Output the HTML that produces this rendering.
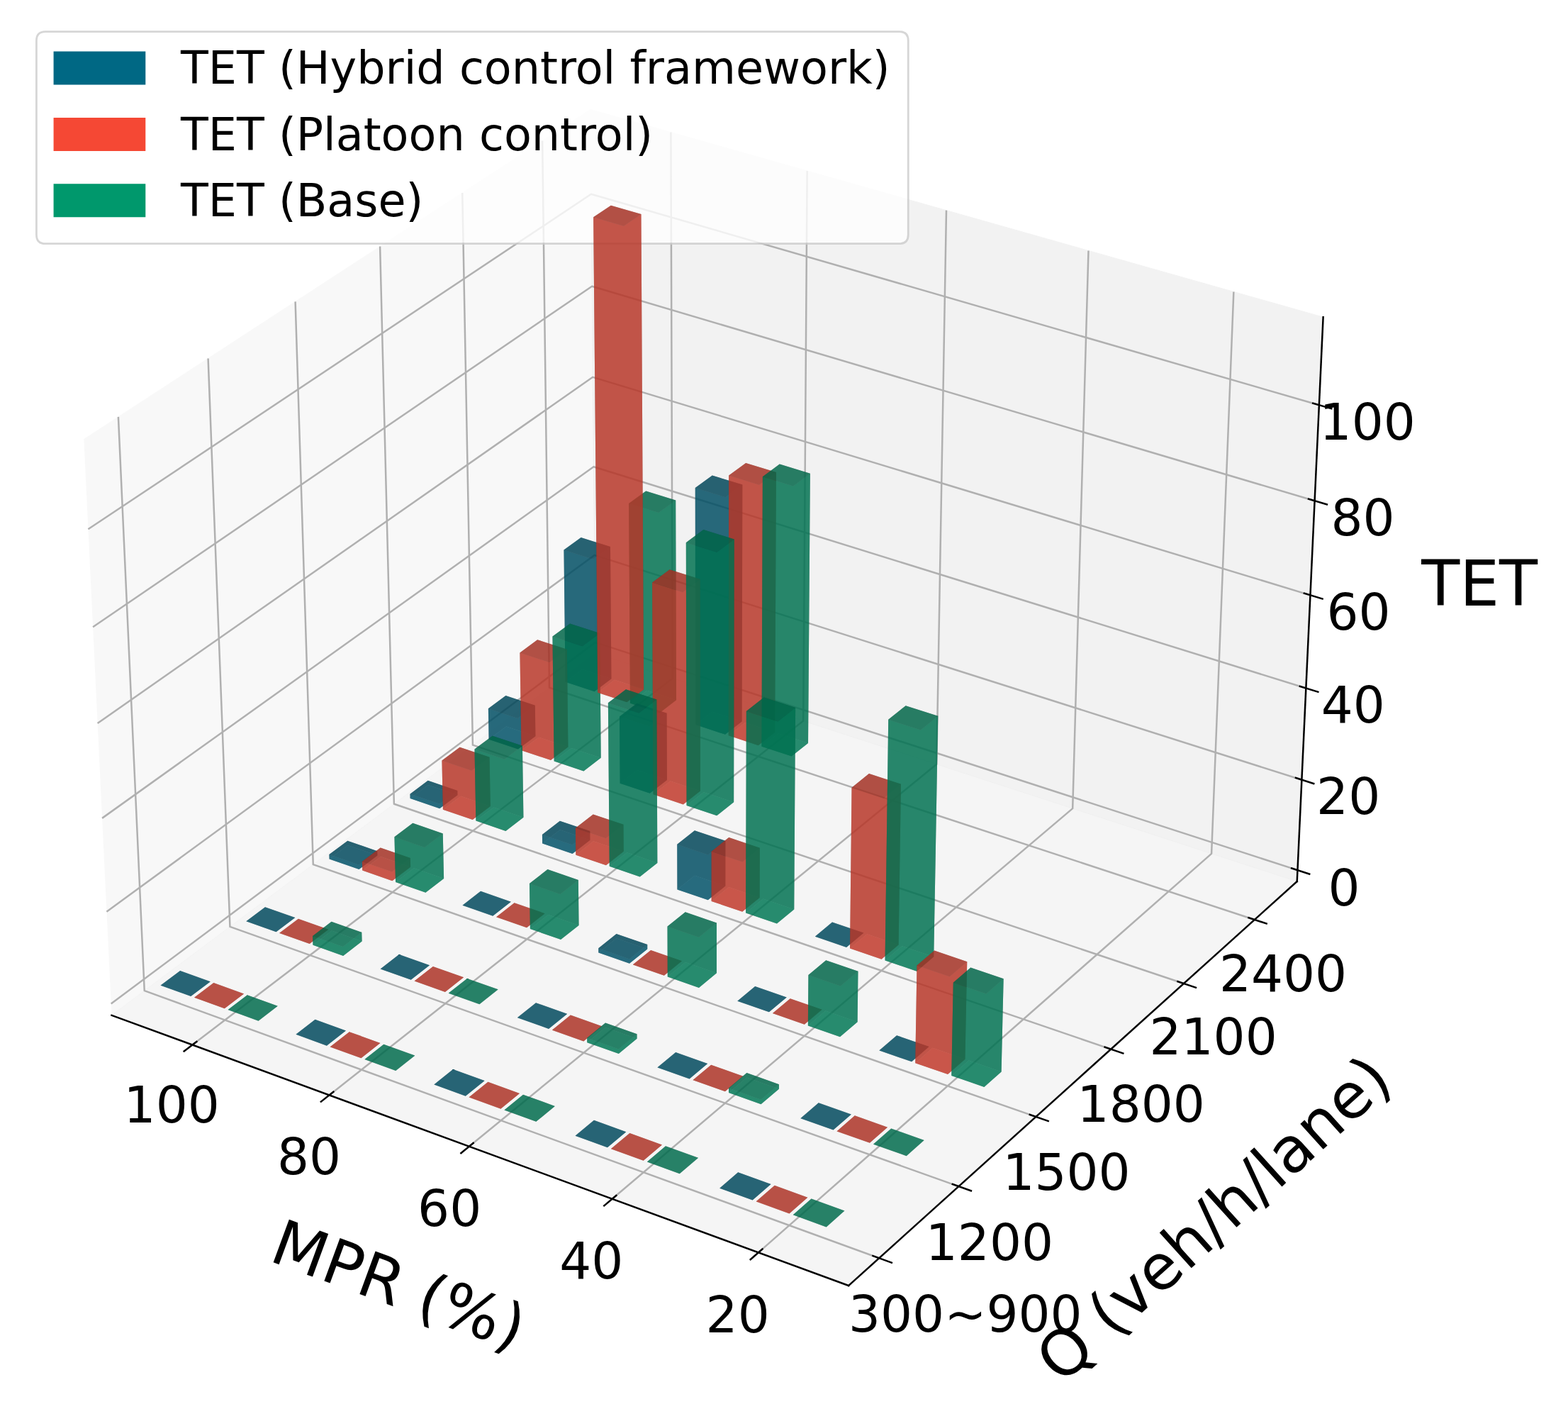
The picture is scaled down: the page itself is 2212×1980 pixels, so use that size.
<!DOCTYPE html>
<html lang="en">
<head>
<meta charset="utf-8">
<title>TET 3D bar chart</title>
<style>
html,body{margin:0;padding:0;background:#fff}
body{width:2212px;height:1980px;overflow:hidden}
svg text{font-family:"DejaVu Sans","Liberation Sans",sans-serif;fill:#000}
</style>
</head>
<body>
<svg width="2212" height="1980" viewBox="0 0 2212 1980" style="display:block">
 <defs>
  <style type="text/css">*{stroke-linejoin: round; stroke-linecap: butt}</style>
 </defs>
 <g id="figure_1">
  <g id="patch_1">
   <path d="M 0 1980 L 2212 1980 L 2212 0 L 0 0 z" style="fill: #ffffff"/>
  </g>
  <g id="patch_2">
   <path d="M 20.09 1928.91 L 1940.09 1928.91 L 1940.09 8.91 L 20.09 8.91 L 20.09 1928.91 z" style="fill: none; opacity: 0"/>
  </g>
  <g id="pane3d_1">
   <g id="patch_3">
    <path d="M 157.48 1431.8 L 839.87 921.27 L 832.83 154.43 L 118.29 619.56" style="fill: #f2f2f2; opacity: 0.5; stroke: #f2f2f2; stroke-linejoin: miter"/>
   </g>
  </g>
  <g id="pane3d_2">
   <g id="patch_4">
    <path d="M 1829.75 1243.04 L 839.87 921.27 L 832.83 154.43 L 1866.63 447.19" style="fill: #e6e6e6; opacity: 0.5; stroke: #e6e6e6; stroke-linejoin: miter"/>
   </g>
  </g>
  <g id="pane3d_3">
   <g id="patch_5">
    <path d="M 1197.16 1813.06 L 157.48 1431.8 L 839.87 921.27 L 1829.75 1243.04" style="fill: #ececec; opacity: 0.5; stroke: #ececec; stroke-linejoin: miter"/>
   </g>
  </g>
  <g id="grid3d_1">
   <g id="Line3DCollection_1">
    <path d="M 271.47 1473.6 L 948.85 956.7 L 946.41 186.6" style="fill: none; stroke: #b0b0b0; stroke-width: 2.5"/>
    <path d="M 464.55 1544.41 L 1133.19 1016.62 L 1138.67 241.04" style="fill: none; stroke: #b0b0b0; stroke-width: 2.5"/>
    <path d="M 661.88 1616.77 L 1321.27 1077.75 L 1334.99 296.64" style="fill: none; stroke: #b0b0b0; stroke-width: 2.5"/>
    <path d="M 863.62 1690.75 L 1513.19 1140.14 L 1535.51 353.42" style="fill: none; stroke: #b0b0b0; stroke-width: 2.5"/>
    <path d="M 1069.91 1766.4 L 1709.09 1203.82 L 1740.36 411.43" style="fill: none; stroke: #b0b0b0; stroke-width: 2.5"/>
   </g>
  </g>
  <g id="grid3d_2">
   <g id="Line3DCollection_2">
    <path d="M 166.9 587.91 L 203.75 1397.18 L 1240.24 1774.24" style="fill: none; stroke: #b0b0b0; stroke-width: 2.5"/>
    <path d="M 293.59 505.45 L 324.43 1306.9 L 1352.47 1673.11" style="fill: none; stroke: #b0b0b0; stroke-width: 2.5"/>
    <path d="M 416.6 425.38 L 441.76 1219.12 L 1461.41 1574.94" style="fill: none; stroke: #b0b0b0; stroke-width: 2.5"/>
    <path d="M 536.09 347.59 L 555.88 1133.74 L 1567.2 1479.62" style="fill: none; stroke: #b0b0b0; stroke-width: 2.5"/>
    <path d="M 652.22 272 L 666.91 1050.67 L 1669.97 1387.01" style="fill: none; stroke: #b0b0b0; stroke-width: 2.5"/>
    <path d="M 765.11 198.51 L 774.99 969.81 L 1769.86 1297.01" style="fill: none; stroke: #b0b0b0; stroke-width: 2.5"/>
   </g>
  </g>
  <g id="grid3d_3">
   <g id="Line3DCollection_3">
    <path d="M 1830.48 1227.15 L 839.73 905.93 L 156.7 1415.61" style="fill: none; stroke: #b0b0b0; stroke-width: 2.5"/>
    <path d="M 1836.39 1099.73 L 838.6 782.93 L 150.43 1285.71" style="fill: none; stroke: #b0b0b0; stroke-width: 2.5"/>
    <path d="M 1842.38 970.47 L 837.45 658.24 L 144.07 1153.87" style="fill: none; stroke: #b0b0b0; stroke-width: 2.5"/>
    <path d="M 1848.46 839.33 L 836.29 531.84 L 137.61 1020.06" style="fill: none; stroke: #b0b0b0; stroke-width: 2.5"/>
    <path d="M 1854.62 706.27 L 835.11 403.69 L 131.06 884.22" style="fill: none; stroke: #b0b0b0; stroke-width: 2.5"/>
    <path d="M 1860.88 571.25 L 833.92 273.74 L 124.4 746.33" style="fill: none; stroke: #b0b0b0; stroke-width: 2.5"/>
   </g>
  </g>
  <g id="axis3d_1">
   <g id="line2d_1">
    <path d="M 157.48 1431.8 L 1197.16 1813.06" style="fill: none; stroke: #000000; stroke-width: 2.5; stroke-linecap: square"/>
   </g>
   <g id="xtick_1">
    <g id="line2d_2">
     <path d="M 277.35 1469.11 L 259.68 1482.6" style="fill: none; stroke: #000000; stroke-width: 2.5; stroke-linecap: square"/>
    </g>
   </g>
   <g id="xtick_2">
    <g id="line2d_3">
     <path d="M 470.36 1539.82 L 452.9 1553.6" style="fill: none; stroke: #000000; stroke-width: 2.5; stroke-linecap: square"/>
    </g>
   </g>
   <g id="xtick_3">
    <g id="line2d_4">
     <path d="M 667.62 1612.08 L 650.38 1626.17" style="fill: none; stroke: #000000; stroke-width: 2.5; stroke-linecap: square"/>
    </g>
   </g>
   <g id="xtick_4">
    <g id="line2d_5">
     <path d="M 869.28 1685.95 L 852.28 1700.36" style="fill: none; stroke: #000000; stroke-width: 2.5; stroke-linecap: square"/>
    </g>
   </g>
   <g id="xtick_5">
    <g id="line2d_6">
     <path d="M 1075.48 1761.49 L 1058.74 1776.23" style="fill: none; stroke: #000000; stroke-width: 2.5; stroke-linecap: square"/>
    </g>
   </g>
  </g>
  <g id="axis3d_2">
   <g id="line2d_7">
    <path d="M 1829.75 1243.04 L 1197.16 1813.06" style="fill: none; stroke: #000000; stroke-width: 2.5; stroke-linecap: square"/>
   </g>
   <g id="xtick_6">
    <g id="line2d_8">
     <path d="M 1231.47 1771.05 L 1257.82 1780.63" style="fill: none; stroke: #000000; stroke-width: 2.5; stroke-linecap: square"/>
    </g>
   </g>
   <g id="xtick_7">
    <g id="line2d_9">
     <path d="M 1343.78 1670.01 L 1369.89 1679.31" style="fill: none; stroke: #000000; stroke-width: 2.5; stroke-linecap: square"/>
    </g>
   </g>
   <g id="xtick_8">
    <g id="line2d_10">
     <path d="M 1452.8 1571.93 L 1478.68 1580.96" style="fill: none; stroke: #000000; stroke-width: 2.5; stroke-linecap: square"/>
    </g>
   </g>
   <g id="xtick_9">
    <g id="line2d_11">
     <path d="M 1558.66 1476.7 L 1584.31 1485.47" style="fill: none; stroke: #000000; stroke-width: 2.5; stroke-linecap: square"/>
    </g>
   </g>
   <g id="xtick_10">
    <g id="line2d_12">
     <path d="M 1661.51 1384.17 L 1686.93 1392.69" style="fill: none; stroke: #000000; stroke-width: 2.5; stroke-linecap: square"/>
    </g>
   </g>
   <g id="xtick_11">
    <g id="line2d_13">
     <path d="M 1761.47 1294.25 L 1786.66 1302.53" style="fill: none; stroke: #000000; stroke-width: 2.5; stroke-linecap: square"/>
    </g>
   </g>
  </g>
  <g id="axis3d_3">
   <g id="line2d_14">
    <path d="M 1829.75 1243.04 L 1866.63 447.19" style="fill: none; stroke: #000000; stroke-width: 2.5; stroke-linecap: square"/>
   </g>
   <g id="xtick_12">
    <g id="line2d_15">
     <path d="M 1822.13 1224.45 L 1847.21 1232.58" style="fill: none; stroke: #000000; stroke-width: 2.5; stroke-linecap: square"/>
    </g>
   </g>
   <g id="xtick_13">
    <g id="line2d_16">
     <path d="M 1827.98 1097.06 L 1853.24 1105.08" style="fill: none; stroke: #000000; stroke-width: 2.5; stroke-linecap: square"/>
    </g>
   </g>
   <g id="xtick_14">
    <g id="line2d_17">
     <path d="M 1833.9 967.84 L 1859.36 975.75" style="fill: none; stroke: #000000; stroke-width: 2.5; stroke-linecap: square"/>
    </g>
   </g>
   <g id="xtick_15">
    <g id="line2d_18">
     <path d="M 1839.92 836.74 L 1865.57 844.53" style="fill: none; stroke: #000000; stroke-width: 2.5; stroke-linecap: square"/>
    </g>
   </g>
   <g id="xtick_16">
    <g id="line2d_19">
     <path d="M 1846.02 703.72 L 1871.86 711.39" style="fill: none; stroke: #000000; stroke-width: 2.5; stroke-linecap: square"/>
    </g>
   </g>
   <g id="xtick_17">
    <g id="line2d_20">
     <path d="M 1852.21 568.74 L 1878.25 576.28" style="fill: none; stroke: #000000; stroke-width: 2.5; stroke-linecap: square"/>
    </g>
   </g>
  </g>
  <g id="axes_1">
   <g id="Poly3DCollection_1">
<path d="M 838.61 975.32 L 862.44 957.33 L 821.52 943.96 L 797.61 961.87 z" style="fill: #003746; fill-opacity: 0.6"/>
<path d="M 862.44 957.33 L 860.96 771.1 L 819.62 758.02 L 821.52 943.96 z M 797.61 961.87 L 821.52 943.96 L 819.62 758.02 L 795.46 775.55 z" style="fill: #002b37; fill-opacity: 0.6"/>
<path d="M 838.61 975.32 L 836.88 788.71 L 860.96 771.1 L 862.44 957.33 z M 838.61 975.32 L 797.61 961.87 L 795.46 775.55 L 836.88 788.71 z" style="fill: #005c75; fill-opacity: 0.6"/>
<path d="M 836.88 788.71 L 795.46 775.55 L 819.62 758.02 L 860.96 771.1 z" style="fill: #005065; fill-opacity: 0.6"/>
</g>
   <g id="Poly3DCollection_2">
<path d="M 755.4 1038.13 L 754.79 994.63 L 713.46 980.96 L 714.17 1024.4 z M 689.61 1042.8 L 714.17 1024.4 L 713.46 980.96 L 688.85 999.27 z" style="fill: #002b37; fill-opacity: 0.6"/>
<path d="M 730.92 1056.61 L 755.4 1038.13 L 714.17 1024.4 L 689.61 1042.8 z" style="fill: #003746; fill-opacity: 0.6"/>
<path d="M 730.92 1056.61 L 730.25 1013.02 L 754.79 994.63 L 755.4 1038.13 z M 730.92 1056.61 L 689.61 1042.8 L 688.85 999.27 L 730.25 1013.02 z" style="fill: #005c75; fill-opacity: 0.6"/>
<path d="M 730.25 1013.02 L 688.85 999.27 L 713.46 980.96 L 754.79 994.63 z" style="fill: #005065; fill-opacity: 0.6"/>
</g>
   <g id="Poly3DCollection_3">
<path d="M 930.37 1005.42 L 954.04 987.25 L 912.71 973.75 L 888.96 991.84 z" style="fill: #00513a; fill-opacity: 0.6"/>
<path d="M 954.04 987.25 L 953.23 705.5 L 911.25 692.43 L 912.71 973.75 z M 888.96 991.84 L 912.71 973.75 L 911.25 692.43 L 887.13 709.94 z" style="fill: #003f2d; fill-opacity: 0.6"/>
<path d="M 930.37 1005.42 L 929.18 723.09 L 953.23 705.5 L 954.04 987.25 z M 930.37 1005.42 L 888.96 991.84 L 887.13 709.94 L 929.18 723.09 z" style="fill: #00865f; fill-opacity: 0.6"/>
<path d="M 929.18 723.09 L 887.13 709.94 L 911.25 692.43 L 953.23 705.5 z" style="fill: #007553; fill-opacity: 0.6"/>
</g>
   <g id="legend_1">
    <g id="patch_6">
     <path d="M 64.12 343.69 L 1268.55 343.69 Q 1281.27 343.69 1281.27 330.97 L 1281.27 57.32 Q 1281.27 44.6 1268.55 44.6 L 64.12 44.6 Q 51.4 44.6 51.4 57.32 L 51.4 330.97 Q 51.4 343.69 64.12 343.69 z" style="fill: #ffffff; opacity: 0.8; stroke: #cccccc; stroke-width: 2.8; stroke-linejoin: miter"/>
    </g>
    <g id="patch_7">
     <path d="M 76.84 118.35 L 204.02 118.35 L 204.02 73.84 L 76.84 73.84 z" style="fill: #006884; stroke: #006884; stroke-width: 2.54; stroke-linejoin: miter"/>
    </g>
    <g id="text_1">
     <text style="font-size: 63.59px; font-family: 'DejaVu Sans', 'Liberation Sans', sans-serif; text-anchor: start" x="254.89" y="118.35">TET (Hybrid control framework)</text>
    </g>
    <g id="patch_8">
     <path d="M 76.84 211.69 L 204.02 211.69 L 204.02 167.18 L 76.84 167.18 z" style="fill: #f54834; stroke: #f54834; stroke-width: 2.54; stroke-linejoin: miter"/>
    </g>
    <g id="text_2">
     <text style="font-size: 63.59px; font-family: 'DejaVu Sans', 'Liberation Sans', sans-serif; text-anchor: start" x="254.89" y="211.69">TET (Platoon control)</text>
    </g>
    <g id="patch_9">
     <path d="M 76.84 305.03 L 204.02 305.03 L 204.02 260.52 L 76.84 260.52 z" style="fill: #00986c; stroke: #00986c; stroke-width: 2.54; stroke-linejoin: miter"/>
    </g>
    <g id="text_3">
     <text style="font-size: 63.59px; font-family: 'DejaVu Sans', 'Liberation Sans', sans-serif; text-anchor: start" x="254.89" y="305.03">TET (Base)</text>
    </g>
   </g>
   <g id="Poly3DCollection_4">
<path d="M 777.03 1072.03 L 801.44 1053.46 L 759.99 1039.66 L 735.52 1058.15 z" style="fill: #83261c; fill-opacity: 0.6"/>
<path d="M 801.44 1053.46 L 799.87 915.79 L 758.11 902.2 L 759.99 1039.66 z M 735.52 1058.15 L 759.99 1039.66 L 758.11 902.2 L 733.44 920.41 z" style="fill: #661e16; fill-opacity: 0.6"/>
<path d="M 777.03 1072.03 L 775.27 934.09 L 799.87 915.79 L 801.44 1053.46 z M 777.03 1072.03 L 735.52 1058.15 L 733.44 920.41 L 775.27 934.09 z" style="fill: #d8402e; fill-opacity: 0.6"/>
<path d="M 775.27 934.09 L 733.44 920.41 L 758.11 902.2 L 799.87 915.79 z" style="fill: #bc3728; fill-opacity: 0.6"/>
</g>
   <g id="Poly3DCollection_5">
<path d="M 645.43 1121.14 L 645.3 1114.88 L 603.74 1100.78 L 603.88 1107.03 z M 578.65 1125.94 L 603.88 1107.03 L 603.74 1100.78 L 578.5 1119.68 z" style="fill: #002b37; fill-opacity: 0.6"/>
<path d="M 620.27 1140.13 L 645.43 1121.14 L 603.88 1107.03 L 578.65 1125.94 z" style="fill: #003746; fill-opacity: 0.6"/>
<path d="M 620.13 1133.86 L 578.5 1119.68 L 603.74 1100.78 L 645.3 1114.88 z" style="fill: #005065; fill-opacity: 0.6"/>
<path d="M 620.27 1140.13 L 620.13 1133.86 L 645.3 1114.88 L 645.43 1121.14 z M 620.27 1140.13 L 578.65 1125.94 L 578.5 1119.68 L 620.13 1133.86 z" style="fill: #005c75; fill-opacity: 0.6"/>
</g>
   <g id="Poly3DCollection_6">
<path d="M 823.38 1087.54 L 847.71 1068.87 L 806.05 1054.99 L 781.66 1073.58 z" style="fill: #00513a; fill-opacity: 0.6"/>
<path d="M 847.71 1068.87 L 846.16 892.99 L 804.1 879.39 L 806.05 1054.99 z M 781.66 1073.58 L 806.05 1054.99 L 804.1 879.39 L 779.46 897.61 z" style="fill: #003f2d; fill-opacity: 0.6"/>
<path d="M 823.38 1087.54 L 821.59 911.3 L 846.16 892.99 L 847.71 1068.87 z M 823.38 1087.54 L 781.66 1073.58 L 779.46 897.61 L 821.59 911.3 z" style="fill: #00865f; fill-opacity: 0.6"/>
<path d="M 821.59 911.3 L 779.46 897.61 L 804.1 879.39 L 846.16 892.99 z" style="fill: #007553; fill-opacity: 0.6"/>
</g>
   <g id="Poly3DCollection_7">
<path d="M 1023.06 1035.83 L 1046.57 1017.47 L 1004.82 1003.83 L 981.23 1022.11 z" style="fill: #003746; fill-opacity: 0.6"/>
<path d="M 1046.57 1017.47 L 1047.32 683.56 L 1004.8 670.44 L 1004.82 1003.83 z M 981.23 1022.11 L 1004.82 1003.83 L 1004.8 670.44 L 980.77 688.02 z" style="fill: #002b37; fill-opacity: 0.6"/>
<path d="M 1023.06 1035.83 L 1023.37 701.23 L 1047.32 683.56 L 1046.57 1017.47 z M 1023.06 1035.83 L 981.23 1022.11 L 980.77 688.02 L 1023.37 701.23 z" style="fill: #005c75; fill-opacity: 0.6"/>
<path d="M 1023.37 701.23 L 980.77 688.02 L 1004.8 670.44 L 1047.32 683.56 z" style="fill: #005065; fill-opacity: 0.6"/>
</g>
   <g id="Poly3DCollection_8">
<path d="M 916.79 1118.78 L 940.96 1099.92 L 898.88 1085.9 L 874.64 1104.68 z" style="fill: #003746; fill-opacity: 0.6"/>
<path d="M 940.96 1099.92 L 940.61 1005.81 L 898.31 991.94 L 898.88 1085.9 z M 874.64 1104.68 L 898.88 1085.9 L 898.31 991.94 L 873.95 1010.52 z" style="fill: #002b37; fill-opacity: 0.6"/>
<path d="M 916.79 1118.78 L 916.32 1024.48 L 940.61 1005.81 L 940.96 1099.92 z M 916.79 1118.78 L 874.64 1104.68 L 873.95 1010.52 L 916.32 1024.48 z" style="fill: #005c75; fill-opacity: 0.6"/>
<path d="M 916.32 1024.48 L 873.95 1010.52 L 898.31 991.94 L 940.61 1005.81 z" style="fill: #005065; fill-opacity: 0.6"/>
</g>
   <g id="Poly3DCollection_9">
<path d="M 1069.75 1051.15 L 1093.18 1032.7 L 1051.22 1018.99 L 1027.72 1037.36 z" style="fill: #83261c; fill-opacity: 0.6"/>
<path d="M 1093.18 1032.7 L 1094.96 666.02 L 1052.14 652.88 L 1051.22 1018.99 z M 1027.72 1037.36 L 1051.22 1018.99 L 1052.14 652.88 L 1028.16 670.48 z" style="fill: #661e16; fill-opacity: 0.6"/>
<path d="M 1069.75 1051.15 L 1071.06 683.7 L 1094.96 666.02 L 1093.18 1032.7 z M 1069.75 1051.15 L 1027.72 1037.36 L 1028.16 670.48 L 1071.06 683.7 z" style="fill: #d8402e; fill-opacity: 0.6"/>
<path d="M 1071.06 683.7 L 1028.16 670.48 L 1052.14 652.88 L 1094.96 666.02 z" style="fill: #bc3728; fill-opacity: 0.6"/>
</g>
   <g id="Poly3DCollection_10">
<path d="M 666.73 1155.99 L 691.81 1136.9 L 650.05 1122.71 L 624.9 1141.72 z" style="fill: #83261c; fill-opacity: 0.6"/>
<path d="M 691.81 1136.9 L 690.6 1067.7 L 648.68 1053.63 L 650.05 1122.71 z M 624.9 1141.72 L 650.05 1122.71 L 648.68 1053.63 L 623.43 1072.49 z" style="fill: #661e16; fill-opacity: 0.6"/>
<path d="M 666.73 1155.99 L 665.41 1086.65 L 690.6 1067.7 L 691.81 1136.9 z M 666.73 1155.99 L 624.9 1141.72 L 623.43 1072.49 L 665.41 1086.65 z" style="fill: #d8402e; fill-opacity: 0.6"/>
<path d="M 665.41 1086.65 L 623.43 1072.49 L 648.68 1053.63 L 690.6 1067.7 z" style="fill: #bc3728; fill-opacity: 0.6"/>
</g>
   <g id="Poly3DCollection_11">
<path d="M 1116.69 1066.54 L 1140.03 1048 L 1097.86 1034.22 L 1074.44 1052.68 z" style="fill: #00513a; fill-opacity: 0.6"/>
<path d="M 1140.03 1048 L 1142.87 667.75 L 1099.8 654.57 L 1097.86 1034.22 z M 1074.44 1052.68 L 1097.86 1034.22 L 1099.8 654.57 L 1075.88 672.23 z" style="fill: #003f2d; fill-opacity: 0.6"/>
<path d="M 1116.69 1066.54 L 1119.03 685.5 L 1142.87 667.75 L 1140.03 1048 z M 1116.69 1066.54 L 1074.44 1052.68 L 1075.88 672.23 L 1119.03 685.5 z" style="fill: #00865f; fill-opacity: 0.6"/>
<path d="M 1119.03 685.5 L 1075.88 672.23 L 1099.8 654.57 L 1142.87 667.75 z" style="fill: #007553; fill-opacity: 0.6"/>
</g>
   <g id="Poly3DCollection_12">
<path d="M 713.44 1171.92 L 738.44 1152.73 L 696.46 1138.47 L 671.39 1157.58 z" style="fill: #00513a; fill-opacity: 0.6"/>
<path d="M 738.44 1152.73 L 736.93 1051.74 L 694.72 1037.64 L 696.46 1138.47 z M 671.39 1157.58 L 696.46 1138.47 L 694.72 1037.64 L 669.5 1056.53 z" style="fill: #003f2d; fill-opacity: 0.6"/>
<path d="M 713.44 1171.92 L 711.78 1070.72 L 736.93 1051.74 L 738.44 1152.73 z M 713.44 1171.92 L 671.39 1157.58 L 669.5 1056.53 L 711.78 1070.72 z" style="fill: #00865f; fill-opacity: 0.6"/>
<path d="M 711.78 1070.72 L 669.5 1056.53 L 694.72 1037.64 L 736.93 1051.74 z" style="fill: #007553; fill-opacity: 0.6"/>
</g>
   <g id="Poly3DCollection_13">
<path d="M 832.41 1184.64 L 832.29 1172.04 L 789.85 1157.66 L 790 1170.24 z M 765.09 1189.54 L 790 1170.24 L 789.85 1157.66 L 764.92 1176.93 z" style="fill: #002b37; fill-opacity: 0.6"/>
<path d="M 807.58 1204.03 L 832.41 1184.64 L 790 1170.24 L 765.09 1189.54 z" style="fill: #003746; fill-opacity: 0.6"/>
<path d="M 807.43 1191.4 L 764.92 1176.93 L 789.85 1157.66 L 832.29 1172.04 z" style="fill: #005065; fill-opacity: 0.6"/>
<path d="M 807.58 1204.03 L 807.43 1191.4 L 832.29 1172.04 L 832.41 1184.64 z M 807.58 1204.03 L 765.09 1189.54 L 764.92 1176.93 L 807.43 1191.4 z" style="fill: #005c75; fill-opacity: 0.6"/>
</g>
   <g id="Poly3DCollection_14">
<path d="M 884.37 990.33 L 908.13 972.25 L 867 958.82 L 843.17 976.82 z" style="fill: #83261c; fill-opacity: 0.6"/>
<path d="M 908.13 972.25 L 904.49 302.03 L 861.85 289.66 L 867 958.82 z M 843.17 976.82 L 867 958.82 L 861.85 289.66 L 837.12 306.24 z" style="fill: #661e16; fill-opacity: 0.6"/>
<path d="M 884.37 990.33 L 879.84 318.69 L 904.49 302.03 L 908.13 972.25 z M 884.37 990.33 L 843.17 976.82 L 837.12 306.24 L 879.84 318.69 z" style="fill: #d8402e; fill-opacity: 0.6"/>
<path d="M 879.84 318.69 L 837.12 306.24 L 861.85 289.66 L 904.49 302.03 z" style="fill: #bc3728; fill-opacity: 0.6"/>
</g>
   <g id="Poly3DCollection_15">
<path d="M 532.39 1206.46 L 532.23 1200.15 L 490.35 1185.65 L 490.54 1191.96 z M 464.6 1211.39 L 490.54 1191.96 L 490.35 1185.65 L 464.41 1205.08 z" style="fill: #002b37; fill-opacity: 0.6"/>
<path d="M 506.53 1225.99 L 532.39 1206.46 L 490.54 1191.96 L 464.6 1211.39 z" style="fill: #003746; fill-opacity: 0.6"/>
<path d="M 506.35 1219.66 L 464.41 1205.08 L 490.35 1185.65 L 532.23 1200.15 z" style="fill: #005065; fill-opacity: 0.6"/>
<path d="M 506.53 1225.99 L 506.35 1219.66 L 532.23 1200.15 L 532.39 1206.46 z M 506.53 1225.99 L 464.6 1211.39 L 464.41 1205.08 L 506.35 1219.66 z" style="fill: #005c75; fill-opacity: 0.6"/>
</g>
   <g id="Poly3DCollection_16">
<path d="M 879.77 1200.73 L 879.5 1162.8 L 836.78 1148.38 L 837.14 1186.25 z M 812.31 1205.65 L 837.14 1186.25 L 836.78 1148.38 L 811.9 1167.7 z" style="fill: #661e16; fill-opacity: 0.6"/>
<path d="M 855.01 1220.22 L 879.77 1200.73 L 837.14 1186.25 L 812.31 1205.65 z" style="fill: #83261c; fill-opacity: 0.6"/>
<path d="M 854.69 1182.21 L 811.9 1167.7 L 836.78 1148.38 L 879.5 1162.8 z" style="fill: #bc3728; fill-opacity: 0.6"/>
<path d="M 855.01 1220.22 L 854.69 1182.21 L 879.5 1162.8 L 879.77 1200.73 z M 855.01 1220.22 L 812.31 1205.65 L 811.9 1167.7 L 854.69 1182.21 z" style="fill: #d8402e; fill-opacity: 0.6"/>
</g>
   <g id="Poly3DCollection_17">
<path d="M 963.86 1134.52 L 987.94 1115.56 L 945.64 1101.48 L 921.49 1120.35 z" style="fill: #83261c; fill-opacity: 0.6"/>
<path d="M 987.94 1115.56 L 987.64 816.83 L 944.64 803.21 L 945.64 1101.48 z M 921.49 1120.35 L 945.64 1101.48 L 944.64 803.21 L 920.08 821.46 z" style="fill: #661e16; fill-opacity: 0.6"/>
<path d="M 963.86 1134.52 L 963.15 835.16 L 987.64 816.83 L 987.94 1115.56 z M 963.86 1134.52 L 921.49 1120.35 L 920.08 821.46 L 963.15 835.16 z" style="fill: #d8402e; fill-opacity: 0.6"/>
<path d="M 963.15 835.16 L 920.08 821.46 L 944.64 803.21 L 987.64 816.83 z" style="fill: #bc3728; fill-opacity: 0.6"/>
</g>
   <g id="Poly3DCollection_18">
<path d="M 579.13 1222.66 L 578.83 1210 L 536.72 1195.44 L 537.06 1208.08 z M 511.2 1227.61 L 537.06 1208.08 L 536.72 1195.44 L 510.85 1214.95 z" style="fill: #661e16; fill-opacity: 0.6"/>
<path d="M 553.35 1242.29 L 579.13 1222.66 L 537.06 1208.08 L 511.2 1227.61 z" style="fill: #83261c; fill-opacity: 0.6"/>
<path d="M 553.02 1229.61 L 510.85 1214.95 L 536.72 1195.44 L 578.83 1210 z" style="fill: #bc3728; fill-opacity: 0.6"/>
<path d="M 553.35 1242.29 L 553.02 1229.61 L 578.83 1210 L 579.13 1222.66 z M 553.35 1242.29 L 511.2 1227.61 L 510.85 1214.95 L 553.02 1229.61 z" style="fill: #d8402e; fill-opacity: 0.6"/>
</g>
   <g id="Poly3DCollection_19">
<path d="M 1011.16 1150.34 L 1035.16 1131.29 L 992.65 1117.13 L 968.58 1136.1 z" style="fill: #00513a; fill-opacity: 0.6"/>
<path d="M 1035.16 1131.29 L 1035.76 760.55 L 992.37 746.97 L 992.65 1117.13 z M 968.58 1136.1 L 992.65 1117.13 L 992.37 746.97 L 967.8 765.16 z" style="fill: #003f2d; fill-opacity: 0.6"/>
<path d="M 1011.16 1150.34 L 1011.27 778.83 L 1035.76 760.55 L 1035.16 1131.29 z M 1011.16 1150.34 L 968.58 1136.1 L 967.8 765.16 L 1011.27 778.83 z" style="fill: #00865f; fill-opacity: 0.6"/>
<path d="M 1011.27 778.83 L 967.8 765.16 L 992.37 746.97 L 1035.76 760.55 z" style="fill: #007553; fill-opacity: 0.6"/>
</g>
   <g id="Poly3DCollection_20">
<path d="M 600.41 1258.67 L 626.12 1238.94 L 583.82 1224.28 L 558.04 1243.92 z" style="fill: #00513a; fill-opacity: 0.6"/>
<path d="M 626.12 1238.94 L 624.76 1175.38 L 582.31 1160.82 L 583.82 1224.28 z M 558.04 1243.92 L 583.82 1224.28 L 582.31 1160.82 L 556.44 1180.33 z" style="fill: #003f2d; fill-opacity: 0.6"/>
<path d="M 600.41 1258.67 L 598.95 1194.98 L 624.76 1175.38 L 626.12 1238.94 z M 600.41 1258.67 L 558.04 1243.92 L 556.44 1180.33 L 598.95 1194.98 z" style="fill: #00865f; fill-opacity: 0.6"/>
<path d="M 598.95 1194.98 L 556.44 1180.33 L 582.31 1160.82 L 624.76 1175.38 z" style="fill: #007553; fill-opacity: 0.6"/>
</g>
   <g id="Poly3DCollection_21">
<path d="M 720.82 1271.75 L 720.82 1271.63 L 678.08 1256.82 L 678.08 1256.94 z M 652.46 1276.79 L 678.08 1256.94 L 678.08 1256.82 L 652.46 1276.66 z" style="fill: #002b37; fill-opacity: 0.6"/>
<path d="M 695.28 1291.69 L 720.82 1271.75 L 678.08 1256.94 L 652.46 1276.79 z" style="fill: #003746; fill-opacity: 0.6"/>
<path d="M 695.28 1291.56 L 652.46 1276.66 L 678.08 1256.82 L 720.82 1271.63 z" style="fill: #005065; fill-opacity: 0.6"/>
<path d="M 695.28 1291.69 L 695.28 1291.56 L 720.82 1271.63 L 720.82 1271.75 z M 695.28 1291.69 L 652.46 1276.79 L 652.46 1276.66 L 695.28 1291.56 z" style="fill: #005c75; fill-opacity: 0.6"/>
</g>
   <g id="Poly3DCollection_22">
<path d="M 998.81 1269.27 L 1023.31 1249.48 L 980.01 1234.77 L 955.44 1254.47 z" style="fill: #003746; fill-opacity: 0.6"/>
<path d="M 1023.31 1249.48 L 1023.37 1185.84 L 979.92 1171.24 L 980.01 1234.77 z M 955.44 1254.47 L 980.01 1234.77 L 979.92 1171.24 L 955.26 1190.81 z" style="fill: #002b37; fill-opacity: 0.6"/>
<path d="M 998.81 1269.27 L 998.79 1205.51 L 1023.37 1185.84 L 1023.31 1249.48 z M 998.81 1269.27 L 955.44 1254.47 L 955.26 1190.81 L 998.79 1205.51 z" style="fill: #005c75; fill-opacity: 0.6"/>
<path d="M 998.79 1205.51 L 955.26 1190.81 L 979.92 1171.24 L 1023.37 1185.84 z" style="fill: #005065; fill-opacity: 0.6"/>
</g>
   <g id="Poly3DCollection_23">
<path d="M 768.55 1288.29 L 768.55 1288.16 L 725.58 1273.28 L 725.58 1273.4 z M 700.05 1293.35 L 725.58 1273.4 L 725.58 1273.28 L 700.05 1293.22 z" style="fill: #661e16; fill-opacity: 0.6"/>
<path d="M 743.09 1308.33 L 768.55 1288.29 L 725.58 1273.4 L 700.05 1293.35 z" style="fill: #83261c; fill-opacity: 0.6"/>
<path d="M 743.09 1308.21 L 700.05 1293.22 L 725.58 1273.28 L 768.55 1288.16 z" style="fill: #bc3728; fill-opacity: 0.6"/>
<path d="M 743.09 1308.33 L 743.09 1308.21 L 768.55 1288.16 L 768.55 1288.29 z M 743.09 1308.33 L 700.05 1293.35 L 700.05 1293.22 L 743.09 1308.21 z" style="fill: #d8402e; fill-opacity: 0.6"/>
</g>
   <g id="Poly3DCollection_24">
<path d="M 1047.25 1285.8 L 1071.66 1265.9 L 1028.13 1251.11 L 1003.65 1270.92 z" style="fill: #83261c; fill-opacity: 0.6"/>
<path d="M 1071.66 1265.9 L 1071.92 1195.76 L 1028.22 1181.08 L 1028.13 1251.11 z M 1003.65 1270.92 L 1028.13 1251.11 L 1028.22 1181.08 L 1003.64 1200.75 z" style="fill: #661e16; fill-opacity: 0.6"/>
<path d="M 1047.25 1285.8 L 1047.42 1215.51 L 1071.92 1195.76 L 1071.66 1265.9 z M 1047.25 1285.8 L 1003.65 1270.92 L 1003.64 1200.75 L 1047.42 1215.51 z" style="fill: #d8402e; fill-opacity: 0.6"/>
<path d="M 1047.42 1215.51 L 1003.64 1200.75 L 1028.22 1181.08 L 1071.92 1195.76 z" style="fill: #bc3728; fill-opacity: 0.6"/>
</g>
   <g id="Poly3DCollection_25">
<path d="M 416.17 1294.19 L 416.17 1294.06 L 374 1279.15 L 374 1279.28 z M 347.33 1299.26 L 374 1279.28 L 374 1279.15 L 347.32 1299.13 z" style="fill: #002b37; fill-opacity: 0.6"/>
<path d="M 389.57 1314.27 L 416.17 1294.19 L 374 1279.28 L 347.33 1299.26 z" style="fill: #003746; fill-opacity: 0.6"/>
<path d="M 389.57 1314.14 L 347.32 1299.13 L 374 1279.15 L 416.17 1294.06 z" style="fill: #005065; fill-opacity: 0.6"/>
<path d="M 389.57 1314.27 L 389.57 1314.14 L 416.17 1294.06 L 416.17 1294.19 z M 389.57 1314.27 L 347.33 1299.26 L 347.32 1299.13 L 389.57 1314.14 z" style="fill: #005c75; fill-opacity: 0.6"/>
</g>
   <g id="Poly3DCollection_26">
<path d="M 902.7 1236.48 L 927.36 1216.89 L 884.51 1202.34 L 859.77 1221.84 z" style="fill: #00513a; fill-opacity: 0.6"/>
<path d="M 927.36 1216.89 L 926.35 986.46 L 882.95 972.27 L 884.51 1202.34 z M 859.77 1221.84 L 884.51 1202.34 L 882.95 972.27 L 857.87 991.29 z" style="fill: #003f2d; fill-opacity: 0.6"/>
<path d="M 902.7 1236.48 L 901.35 1005.57 L 926.35 986.46 L 927.36 1216.89 z M 902.7 1236.48 L 859.77 1221.84 L 857.87 991.29 L 901.35 1005.57 z" style="fill: #00865f; fill-opacity: 0.6"/>
<path d="M 901.35 1005.57 L 857.87 991.29 L 882.95 972.27 L 926.35 986.46 z" style="fill: #007553; fill-opacity: 0.6"/>
</g>
   <g id="Poly3DCollection_27">
<path d="M 463.27 1310.85 L 463.26 1310.72 L 420.87 1295.73 L 420.87 1295.85 z M 394.28 1315.94 L 420.87 1295.85 L 420.87 1295.73 L 394.27 1315.82 z" style="fill: #661e16; fill-opacity: 0.6"/>
<path d="M 436.74 1331.03 L 463.27 1310.85 L 420.87 1295.85 L 394.28 1315.94 z" style="fill: #83261c; fill-opacity: 0.6"/>
<path d="M 436.74 1330.91 L 394.27 1315.82 L 420.87 1295.73 L 463.26 1310.72 z" style="fill: #bc3728; fill-opacity: 0.6"/>
<path d="M 436.74 1331.03 L 436.74 1330.91 L 463.26 1310.72 L 463.27 1310.85 z M 436.74 1331.03 L 394.28 1315.94 L 394.27 1315.82 L 436.74 1330.91 z" style="fill: #d8402e; fill-opacity: 0.6"/>
</g>
   <g id="Poly3DCollection_28">
<path d="M 1218.24 1315.68 L 1218.24 1315.55 L 1174.02 1300.53 L 1174.02 1300.66 z M 1149.81 1320.78 L 1174.02 1300.66 L 1174.02 1300.53 L 1149.81 1320.65 z" style="fill: #002b37; fill-opacity: 0.6"/>
<path d="M 1194.11 1335.89 L 1218.24 1315.68 L 1174.02 1300.66 L 1149.81 1320.78 z" style="fill: #003746; fill-opacity: 0.6"/>
<path d="M 1194.11 1335.77 L 1149.81 1320.65 L 1174.02 1300.53 L 1218.24 1315.55 z" style="fill: #005065; fill-opacity: 0.6"/>
<path d="M 1194.11 1335.89 L 1194.11 1335.77 L 1218.24 1315.55 L 1218.24 1315.68 z M 1194.11 1335.89 L 1149.81 1320.78 L 1149.81 1320.65 L 1194.11 1335.77 z" style="fill: #005c75; fill-opacity: 0.6"/>
</g>
   <g id="Poly3DCollection_29">
<path d="M 791.15 1325.06 L 816.53 1304.92 L 773.33 1289.95 L 747.89 1310 z" style="fill: #00513a; fill-opacity: 0.6"/>
<path d="M 816.53 1304.92 L 815.84 1240.92 L 772.5 1226.05 L 773.33 1289.95 z M 747.89 1310 L 773.33 1289.95 L 772.5 1226.05 L 746.95 1245.97 z" style="fill: #003f2d; fill-opacity: 0.6"/>
<path d="M 791.15 1325.06 L 790.38 1260.94 L 815.84 1240.92 L 816.53 1304.92 z M 791.15 1325.06 L 747.89 1310 L 746.95 1245.97 L 790.38 1260.94 z" style="fill: #00865f; fill-opacity: 0.6"/>
<path d="M 790.38 1260.94 L 746.95 1245.97 L 772.5 1226.05 L 815.84 1240.92 z" style="fill: #007553; fill-opacity: 0.6"/>
</g>
   <g id="Poly3DCollection_30">
<path d="M 510.61 1327.59 L 510.25 1314.8 L 467.6 1299.74 L 467.99 1312.52 z M 441.48 1332.71 L 467.99 1312.52 L 467.6 1299.74 L 441.07 1319.92 z" style="fill: #003f2d; fill-opacity: 0.6"/>
<path d="M 484.17 1347.88 L 510.61 1327.59 L 467.99 1312.52 L 441.48 1332.71 z" style="fill: #00513a; fill-opacity: 0.6"/>
<path d="M 483.79 1335.07 L 441.07 1319.92 L 467.6 1299.74 L 510.25 1314.8 z" style="fill: #007553; fill-opacity: 0.6"/>
<path d="M 484.17 1347.88 L 483.79 1335.07 L 510.25 1314.8 L 510.61 1327.59 z M 484.17 1347.88 L 441.48 1332.71 L 441.07 1319.92 L 483.79 1335.07 z" style="fill: #00865f; fill-opacity: 0.6"/>
</g>
   <g id="Poly3DCollection_31">
<path d="M 913.24 1338.43 L 913.21 1332.03 L 869.55 1316.91 L 869.59 1323.3 z M 844.32 1343.57 L 869.59 1323.3 L 869.55 1316.91 L 844.26 1337.17 z" style="fill: #002b37; fill-opacity: 0.6"/>
<path d="M 888.05 1358.79 L 913.24 1338.43 L 869.59 1323.3 L 844.32 1343.57 z" style="fill: #003746; fill-opacity: 0.6"/>
<path d="M 888.01 1352.38 L 844.26 1337.17 L 869.55 1316.91 L 913.21 1332.03 z" style="fill: #005065; fill-opacity: 0.6"/>
<path d="M 888.05 1358.79 L 888.01 1352.38 L 913.21 1332.03 L 913.24 1338.43 z M 888.05 1358.79 L 844.32 1343.57 L 844.26 1337.17 L 888.01 1352.38 z" style="fill: #005c75; fill-opacity: 0.6"/>
</g>
   <g id="Poly3DCollection_32">
<path d="M 961.99 1355.32 L 961.99 1355.19 L 918.11 1339.99 L 918.11 1340.11 z M 892.92 1360.49 L 918.11 1340.11 L 918.11 1339.99 L 892.92 1360.36 z" style="fill: #661e16; fill-opacity: 0.6"/>
<path d="M 936.88 1375.79 L 961.99 1355.32 L 918.11 1340.11 L 892.92 1360.49 z" style="fill: #83261c; fill-opacity: 0.6"/>
<path d="M 936.88 1375.66 L 892.92 1360.36 L 918.11 1339.99 L 961.99 1355.19 z" style="fill: #bc3728; fill-opacity: 0.6"/>
<path d="M 936.88 1375.79 L 936.88 1375.66 L 961.99 1355.19 L 961.99 1355.32 z M 936.88 1375.79 L 892.92 1360.49 L 892.92 1360.36 L 936.88 1375.66 z" style="fill: #d8402e; fill-opacity: 0.6"/>
</g>
   <g id="Poly3DCollection_33">
<path d="M 606.05 1361.35 L 606.05 1361.22 L 562.97 1345.98 L 562.98 1346.11 z M 536.63 1366.52 L 562.98 1346.11 L 562.97 1345.98 L 536.62 1366.4 z" style="fill: #002b37; fill-opacity: 0.6"/>
<path d="M 579.77 1381.86 L 606.05 1361.35 L 562.98 1346.11 L 536.63 1366.52 z" style="fill: #003746; fill-opacity: 0.6"/>
<path d="M 579.77 1381.73 L 536.62 1366.4 L 562.97 1345.98 L 606.05 1361.22 z" style="fill: #005065; fill-opacity: 0.6"/>
<path d="M 579.77 1381.86 L 579.77 1381.73 L 606.05 1361.22 L 606.05 1361.35 z M 579.77 1381.86 L 536.63 1366.52 L 536.62 1366.4 L 579.77 1381.73 z" style="fill: #005c75; fill-opacity: 0.6"/>
</g>
   <g id="Poly3DCollection_34">
<path d="M 654.15 1378.36 L 654.15 1378.23 L 610.85 1362.91 L 610.85 1363.04 z M 584.58 1383.56 L 610.85 1363.04 L 610.85 1362.91 L 584.58 1383.44 z" style="fill: #661e16; fill-opacity: 0.6"/>
<path d="M 627.96 1398.98 L 654.15 1378.36 L 610.85 1363.04 L 584.58 1383.56 z" style="fill: #83261c; fill-opacity: 0.6"/>
<path d="M 627.96 1398.85 L 584.58 1383.44 L 610.85 1362.91 L 654.15 1378.23 z" style="fill: #bc3728; fill-opacity: 0.6"/>
<path d="M 627.96 1398.98 L 627.96 1398.85 L 654.15 1378.23 L 654.15 1378.36 z M 627.96 1398.98 L 584.58 1383.56 L 584.58 1383.44 L 627.96 1398.85 z" style="fill: #d8402e; fill-opacity: 0.6"/>
</g>
   <g id="Poly3DCollection_35">
<path d="M 1095.95 1302.41 L 1120.26 1282.4 L 1076.51 1267.54 L 1052.11 1287.45 z" style="fill: #00513a; fill-opacity: 0.6"/>
<path d="M 1120.26 1282.4 L 1122.09 997.99 L 1077.64 983.57 L 1076.51 1267.54 z M 1052.11 1287.45 L 1076.51 1267.54 L 1077.64 983.57 L 1052.85 1002.89 z" style="fill: #003f2d; fill-opacity: 0.6"/>
<path d="M 1095.95 1302.41 L 1097.39 1017.4 L 1122.09 997.99 L 1120.26 1282.4 z M 1095.95 1302.41 L 1052.11 1287.45 L 1052.85 1002.89 L 1097.39 1017.4 z" style="fill: #00865f; fill-opacity: 0.6"/>
<path d="M 1097.39 1017.4 L 1052.85 1002.89 L 1077.64 983.57 L 1122.09 997.99 z" style="fill: #007553; fill-opacity: 0.6"/>
</g>
   <g id="Poly3DCollection_36">
<path d="M 296.63 1384.43 L 296.63 1384.3 L 254.14 1368.95 L 254.14 1369.08 z M 226.7 1389.64 L 254.14 1369.08 L 254.14 1368.95 L 226.7 1389.52 z" style="fill: #002b37; fill-opacity: 0.6"/>
<path d="M 269.26 1405.09 L 296.63 1384.43 L 254.14 1369.08 L 226.7 1389.64 z" style="fill: #003746; fill-opacity: 0.6"/>
<path d="M 269.26 1404.96 L 226.7 1389.52 L 254.14 1368.95 L 296.63 1384.3 z" style="fill: #005065; fill-opacity: 0.6"/>
<path d="M 269.26 1405.09 L 269.26 1404.96 L 296.63 1384.3 L 296.63 1384.43 z M 269.26 1405.09 L 226.7 1389.64 L 226.7 1389.52 L 269.26 1404.96 z" style="fill: #005c75; fill-opacity: 0.6"/>
</g>
   <g id="Poly3DCollection_37">
<path d="M 702.51 1395.46 L 702.51 1395.33 L 658.97 1379.94 L 658.98 1380.06 z M 632.79 1400.7 L 658.98 1380.06 L 658.97 1379.94 L 632.79 1400.57 z" style="fill: #003f2d; fill-opacity: 0.6"/>
<path d="M 676.41 1416.19 L 702.51 1395.46 L 658.98 1380.06 L 632.79 1400.7 z" style="fill: #00513a; fill-opacity: 0.6"/>
<path d="M 676.4 1416.06 L 632.79 1400.57 L 658.97 1379.94 L 702.51 1395.33 z" style="fill: #007553; fill-opacity: 0.6"/>
<path d="M 676.41 1416.19 L 676.4 1416.06 L 702.51 1395.33 L 702.51 1395.46 z M 676.41 1416.19 L 632.79 1400.7 L 632.79 1400.57 L 676.4 1416.06 z" style="fill: #00865f; fill-opacity: 0.6"/>
</g>
   <g id="Poly3DCollection_38">
<path d="M 985.98 1392.88 L 1010.99 1372.3 L 966.88 1357.01 L 941.78 1377.5 z" style="fill: #00513a; fill-opacity: 0.6"/>
<path d="M 1010.99 1372.3 L 1011.01 1301.4 L 966.72 1286.22 L 966.88 1357.01 z M 941.78 1377.5 L 966.88 1357.01 L 966.72 1286.22 L 941.52 1306.55 z" style="fill: #003f2d; fill-opacity: 0.6"/>
<path d="M 985.98 1392.88 L 985.9 1321.83 L 1011.01 1301.4 L 1010.99 1372.3 z M 985.98 1392.88 L 941.78 1377.5 L 941.52 1306.55 L 985.9 1321.83 z" style="fill: #00865f; fill-opacity: 0.6"/>
<path d="M 985.9 1321.83 L 941.52 1306.55 L 966.72 1286.22 L 1011.01 1301.4 z" style="fill: #007553; fill-opacity: 0.6"/>
</g>
   <g id="Poly3DCollection_39">
<path d="M 344.08 1401.56 L 344.07 1401.43 L 301.36 1386.01 L 301.36 1386.14 z M 274 1406.81 L 301.36 1386.14 L 301.36 1386.01 L 274 1406.68 z" style="fill: #661e16; fill-opacity: 0.6"/>
<path d="M 316.79 1422.33 L 344.08 1401.56 L 301.36 1386.14 L 274 1406.81 z" style="fill: #83261c; fill-opacity: 0.6"/>
<path d="M 316.78 1422.21 L 274 1406.68 L 301.36 1386.01 L 344.07 1401.43 z" style="fill: #bc3728; fill-opacity: 0.6"/>
<path d="M 316.79 1422.33 L 316.78 1422.21 L 344.07 1401.43 L 344.08 1401.56 z M 316.79 1422.33 L 274 1406.81 L 274 1406.68 L 316.78 1422.21 z" style="fill: #d8402e; fill-opacity: 0.6"/>
</g>
   <g id="Poly3DCollection_40">
<path d="M 1109.79 1406.53 L 1109.79 1406.4 L 1065.2 1390.95 L 1065.2 1391.08 z M 1040.29 1411.79 L 1065.2 1391.08 L 1065.2 1390.95 L 1040.29 1411.66 z" style="fill: #002b37; fill-opacity: 0.6"/>
<path d="M 1084.96 1427.34 L 1109.79 1406.53 L 1065.2 1391.08 L 1040.29 1411.79 z" style="fill: #003746; fill-opacity: 0.6"/>
<path d="M 1084.96 1427.21 L 1040.29 1411.66 L 1065.2 1390.95 L 1109.79 1406.4 z" style="fill: #005065; fill-opacity: 0.6"/>
<path d="M 1084.96 1427.34 L 1084.96 1427.21 L 1109.79 1406.4 L 1109.79 1406.53 z M 1084.96 1427.34 L 1040.29 1411.79 L 1040.29 1411.66 L 1084.96 1427.21 z" style="fill: #005c75; fill-opacity: 0.6"/>
</g>
   <g id="Poly3DCollection_41">
<path d="M 1243.58 1352.77 L 1267.62 1332.45 L 1223.17 1317.35 L 1199.04 1337.58 z" style="fill: #83261c; fill-opacity: 0.6"/>
<path d="M 1267.62 1332.45 L 1270.97 1105.77 L 1225.94 1091.03 L 1223.17 1317.35 z M 1199.04 1337.58 L 1223.17 1317.35 L 1225.94 1091.03 L 1201.52 1110.79 z" style="fill: #661e16; fill-opacity: 0.6"/>
<path d="M 1243.58 1352.77 L 1246.63 1125.63 L 1270.97 1105.77 L 1267.62 1332.45 z M 1243.58 1352.77 L 1199.04 1337.58 L 1201.52 1110.79 L 1246.63 1125.63 z" style="fill: #d8402e; fill-opacity: 0.6"/>
<path d="M 1246.63 1125.63 L 1201.52 1110.79 L 1225.94 1091.03 L 1270.97 1105.77 z" style="fill: #bc3728; fill-opacity: 0.6"/>
</g>
   <g id="Poly3DCollection_42">
<path d="M 391.78 1418.79 L 391.78 1418.66 L 348.83 1403.15 L 348.84 1403.28 z M 321.56 1424.06 L 348.84 1403.28 L 348.83 1403.15 L 321.55 1423.94 z" style="fill: #003f2d; fill-opacity: 0.6"/>
<path d="M 364.57 1439.67 L 391.78 1418.79 L 348.84 1403.28 L 321.56 1424.06 z" style="fill: #00513a; fill-opacity: 0.6"/>
<path d="M 364.57 1439.54 L 321.55 1423.94 L 348.83 1403.15 L 391.78 1418.66 z" style="fill: #007553; fill-opacity: 0.6"/>
<path d="M 364.57 1439.67 L 364.57 1439.54 L 391.78 1418.66 L 391.78 1418.79 z M 364.57 1439.67 L 321.56 1424.06 L 321.55 1423.94 L 364.57 1439.54 z" style="fill: #00865f; fill-opacity: 0.6"/>
</g>
   <g id="Poly3DCollection_43">
<path d="M 1159.59 1423.79 L 1159.59 1423.66 L 1114.76 1408.13 L 1114.76 1408.25 z M 1089.94 1429.07 L 1114.76 1408.25 L 1114.76 1408.13 L 1089.94 1428.94 z" style="fill: #661e16; fill-opacity: 0.6"/>
<path d="M 1134.85 1444.7 L 1159.59 1423.79 L 1114.76 1408.25 L 1089.94 1429.07 z" style="fill: #83261c; fill-opacity: 0.6"/>
<path d="M 1134.85 1444.57 L 1089.94 1428.94 L 1114.76 1408.13 L 1159.59 1423.66 z" style="fill: #bc3728; fill-opacity: 0.6"/>
<path d="M 1134.85 1444.7 L 1134.85 1444.57 L 1159.59 1423.66 L 1159.59 1423.79 z M 1134.85 1444.7 L 1089.94 1429.07 L 1089.94 1428.94 L 1134.85 1444.57 z" style="fill: #d8402e; fill-opacity: 0.6"/>
</g>
   <g id="Poly3DCollection_44">
<path d="M 800.01 1429.94 L 800.01 1429.81 L 756 1414.25 L 756.01 1414.38 z M 730 1435.24 L 756.01 1414.38 L 756 1414.25 L 729.99 1435.11 z" style="fill: #002b37; fill-opacity: 0.6"/>
<path d="M 774.08 1450.9 L 800.01 1429.94 L 756.01 1414.38 L 730 1435.24 z" style="fill: #003746; fill-opacity: 0.6"/>
<path d="M 774.08 1450.77 L 729.99 1435.11 L 756 1414.25 L 800.01 1429.81 z" style="fill: #005065; fill-opacity: 0.6"/>
<path d="M 774.08 1450.9 L 774.08 1450.77 L 800.01 1429.81 L 800.01 1429.94 z M 774.08 1450.9 L 730 1435.24 L 729.99 1435.11 L 774.08 1450.77 z" style="fill: #005c75; fill-opacity: 0.6"/>
</g>
   <g id="Poly3DCollection_45">
<path d="M 849.15 1447.32 L 849.15 1447.2 L 804.91 1431.55 L 804.91 1431.68 z M 778.99 1452.64 L 804.91 1431.68 L 804.91 1431.55 L 778.99 1452.52 z" style="fill: #661e16; fill-opacity: 0.6"/>
<path d="M 823.31 1468.39 L 849.15 1447.32 L 804.91 1431.68 L 778.99 1452.64 z" style="fill: #83261c; fill-opacity: 0.6"/>
<path d="M 823.31 1468.26 L 778.99 1452.52 L 804.91 1431.55 L 849.15 1447.2 z" style="fill: #bc3728; fill-opacity: 0.6"/>
<path d="M 823.31 1468.39 L 823.31 1468.26 L 849.15 1447.2 L 849.15 1447.32 z M 823.31 1468.39 L 778.99 1452.64 L 778.99 1452.52 L 823.31 1468.26 z" style="fill: #d8402e; fill-opacity: 0.6"/>
</g>
   <g id="Poly3DCollection_46">
<path d="M 487.96 1453.53 L 487.96 1453.4 L 444.55 1437.72 L 444.55 1437.85 z M 417.43 1458.86 L 444.55 1437.85 L 444.55 1437.72 L 417.43 1458.73 z" style="fill: #002b37; fill-opacity: 0.6"/>
<path d="M 460.92 1474.64 L 487.96 1453.53 L 444.55 1437.85 L 417.43 1458.86 z" style="fill: #003746; fill-opacity: 0.6"/>
<path d="M 460.91 1474.51 L 417.43 1458.73 L 444.55 1437.72 L 487.96 1453.4 z" style="fill: #005065; fill-opacity: 0.6"/>
<path d="M 460.92 1474.64 L 460.91 1474.51 L 487.96 1453.4 L 487.96 1453.53 z M 460.92 1474.64 L 417.43 1458.86 L 417.43 1458.73 L 460.91 1474.51 z" style="fill: #005c75; fill-opacity: 0.6"/>
</g>
   <g id="Poly3DCollection_47">
<path d="M 898.56 1464.8 L 898.52 1458.32 L 854.03 1442.6 L 854.08 1449.07 z M 828.25 1470.15 L 854.08 1449.07 L 854.03 1442.6 L 828.19 1463.66 z" style="fill: #003f2d; fill-opacity: 0.6"/>
<path d="M 872.82 1485.98 L 898.56 1464.8 L 854.08 1449.07 L 828.25 1470.15 z" style="fill: #00513a; fill-opacity: 0.6"/>
<path d="M 872.77 1479.49 L 828.19 1463.66 L 854.03 1442.6 L 898.52 1458.32 z" style="fill: #007553; fill-opacity: 0.6"/>
<path d="M 872.82 1485.98 L 872.77 1479.49 L 898.52 1458.32 L 898.56 1464.8 z M 872.82 1485.98 L 828.25 1470.15 L 828.19 1463.66 L 872.77 1479.49 z" style="fill: #00865f; fill-opacity: 0.6"/>
</g>
   <g id="Poly3DCollection_48">
<path d="M 1185.01 1462.16 L 1209.65 1441.14 L 1164.58 1425.52 L 1139.86 1446.44 z" style="fill: #00513a; fill-opacity: 0.6"/>
<path d="M 1209.65 1441.14 L 1210.48 1369.74 L 1165.23 1354.24 L 1164.58 1425.52 z M 1139.86 1446.44 L 1164.58 1425.52 L 1165.23 1354.24 L 1140.4 1375.02 z" style="fill: #003f2d; fill-opacity: 0.6"/>
<path d="M 1185.01 1462.16 L 1185.74 1390.62 L 1210.48 1369.74 L 1209.65 1441.14 z M 1185.01 1462.16 L 1139.86 1446.44 L 1140.4 1375.02 L 1185.74 1390.62 z" style="fill: #00865f; fill-opacity: 0.6"/>
<path d="M 1185.74 1390.62 L 1140.4 1375.02 L 1165.23 1354.24 L 1210.48 1369.74 z" style="fill: #007553; fill-opacity: 0.6"/>
</g>
   <g id="Poly3DCollection_49">
<path d="M 536.44 1471.03 L 536.44 1470.91 L 492.79 1455.14 L 492.8 1455.27 z M 465.76 1476.39 L 492.8 1455.27 L 492.79 1455.14 L 465.76 1476.26 z" style="fill: #661e16; fill-opacity: 0.6"/>
<path d="M 509.48 1492.26 L 536.44 1471.03 L 492.8 1455.27 L 465.76 1476.39 z" style="fill: #83261c; fill-opacity: 0.6"/>
<path d="M 509.48 1492.13 L 465.76 1476.26 L 492.79 1455.14 L 536.44 1470.91 z" style="fill: #bc3728; fill-opacity: 0.6"/>
<path d="M 509.48 1492.26 L 509.48 1492.13 L 536.44 1470.91 L 536.44 1471.03 z M 509.48 1492.26 L 465.76 1476.39 L 465.76 1476.26 L 509.48 1492.13 z" style="fill: #d8402e; fill-opacity: 0.6"/>
</g>
   <g id="Poly3DCollection_50">
<path d="M 1293.31 1369.74 L 1317.26 1349.3 L 1272.57 1334.13 L 1248.54 1354.46 z" style="fill: #00513a; fill-opacity: 0.6"/>
<path d="M 1317.26 1349.3 L 1323.24 1009.83 L 1277.68 995.19 L 1272.57 1334.13 z M 1248.54 1354.46 L 1272.57 1334.13 L 1277.68 995.19 L 1253.2 1014.81 z" style="fill: #003f2d; fill-opacity: 0.6"/>
<path d="M 1293.31 1369.74 L 1298.85 1029.55 L 1323.24 1009.83 L 1317.26 1349.3 z M 1293.31 1369.74 L 1248.54 1354.46 L 1253.2 1014.81 L 1298.85 1029.55 z" style="fill: #00865f; fill-opacity: 0.6"/>
<path d="M 1298.85 1029.55 L 1253.2 1014.81 L 1277.68 995.19 L 1323.24 1009.83 z" style="fill: #007553; fill-opacity: 0.6"/>
</g>
   <g id="Poly3DCollection_51">
<path d="M 1310.6 1476.11 L 1310.6 1475.98 L 1265.04 1460.2 L 1265.04 1460.33 z M 1240.51 1481.48 L 1265.04 1460.33 L 1265.04 1460.2 L 1240.51 1481.35 z" style="fill: #002b37; fill-opacity: 0.6"/>
<path d="M 1286.16 1497.37 L 1310.6 1476.11 L 1265.04 1460.33 L 1240.51 1481.48 z" style="fill: #003746; fill-opacity: 0.6"/>
<path d="M 1286.16 1497.24 L 1240.51 1481.35 L 1265.04 1460.2 L 1310.6 1475.98 z" style="fill: #005065; fill-opacity: 0.6"/>
<path d="M 1286.16 1497.37 L 1286.16 1497.24 L 1310.6 1475.98 L 1310.6 1476.11 z M 1286.16 1497.37 L 1240.51 1481.48 L 1240.51 1481.35 L 1286.16 1497.24 z" style="fill: #005c75; fill-opacity: 0.6"/>
</g>
   <g id="Poly3DCollection_52">
<path d="M 585.18 1488.64 L 585.18 1488.51 L 541.3 1472.66 L 541.3 1472.79 z M 514.35 1494.03 L 541.3 1472.79 L 541.3 1472.66 L 514.35 1493.9 z" style="fill: #003f2d; fill-opacity: 0.6"/>
<path d="M 558.31 1509.98 L 585.18 1488.64 L 541.3 1472.79 L 514.35 1494.03 z" style="fill: #00513a; fill-opacity: 0.6"/>
<path d="M 558.31 1509.85 L 514.35 1493.9 L 541.3 1472.66 L 585.18 1488.51 z" style="fill: #007553; fill-opacity: 0.6"/>
<path d="M 558.31 1509.98 L 558.31 1509.85 L 585.18 1488.51 L 585.18 1488.64 z M 558.31 1509.98 L 514.35 1494.03 L 514.35 1493.9 L 558.31 1509.85 z" style="fill: #00865f; fill-opacity: 0.6"/>
</g>
   <g id="Poly3DCollection_53">
<path d="M 998.19 1500.03 L 998.19 1499.9 L 953.22 1484 L 953.22 1484.13 z M 927.58 1505.44 L 953.22 1484.13 L 953.22 1484 L 927.58 1505.31 z" style="fill: #002b37; fill-opacity: 0.6"/>
<path d="M 972.63 1521.45 L 998.19 1500.03 L 953.22 1484.13 L 927.58 1505.44 z" style="fill: #003746; fill-opacity: 0.6"/>
<path d="M 972.63 1521.32 L 927.58 1505.31 L 953.22 1484 L 998.19 1499.9 z" style="fill: #005065; fill-opacity: 0.6"/>
<path d="M 972.63 1521.45 L 972.63 1521.32 L 998.19 1499.9 L 998.19 1500.03 z M 972.63 1521.45 L 927.58 1505.44 L 927.58 1505.31 L 972.63 1521.32 z" style="fill: #005c75; fill-opacity: 0.6"/>
</g>
   <g id="Poly3DCollection_54">
<path d="M 1048.41 1517.8 L 1048.41 1517.67 L 1003.2 1501.68 L 1003.2 1501.81 z M 977.65 1523.23 L 1003.2 1501.81 L 1003.2 1501.68 L 977.65 1523.1 z" style="fill: #661e16; fill-opacity: 0.6"/>
<path d="M 1022.94 1539.33 L 1048.41 1517.8 L 1003.2 1501.81 L 977.65 1523.23 z" style="fill: #83261c; fill-opacity: 0.6"/>
<path d="M 1022.94 1539.2 L 977.65 1523.1 L 1003.2 1501.68 L 1048.41 1517.67 z" style="fill: #bc3728; fill-opacity: 0.6"/>
<path d="M 1022.94 1539.33 L 1022.94 1539.2 L 1048.41 1517.67 L 1048.41 1517.8 z M 1022.94 1539.33 L 977.65 1523.23 L 977.65 1523.1 L 1022.94 1539.2 z" style="fill: #d8402e; fill-opacity: 0.6"/>
</g>
   <g id="Poly3DCollection_55">
<path d="M 683.47 1524.13 L 683.46 1524 L 639.1 1507.98 L 639.11 1508.11 z M 612.33 1529.58 L 639.11 1508.11 L 639.1 1507.98 L 612.33 1529.45 z" style="fill: #002b37; fill-opacity: 0.6"/>
<path d="M 656.77 1545.71 L 683.47 1524.13 L 639.11 1508.11 L 612.33 1529.58 z" style="fill: #003746; fill-opacity: 0.6"/>
<path d="M 656.77 1545.58 L 612.33 1529.45 L 639.1 1507.98 L 683.46 1524 z" style="fill: #005065; fill-opacity: 0.6"/>
<path d="M 656.77 1545.71 L 656.77 1545.58 L 683.46 1524 L 683.47 1524.13 z M 656.77 1545.71 L 612.33 1529.58 L 612.33 1529.45 L 656.77 1545.58 z" style="fill: #005c75; fill-opacity: 0.6"/>
</g>
   <g id="Poly3DCollection_56">
<path d="M 1098.9 1535.65 L 1098.94 1529.13 L 1053.46 1513.06 L 1053.44 1519.58 z M 1027.99 1541.12 L 1053.44 1519.58 L 1053.46 1513.06 L 1028 1534.59 z" style="fill: #003f2d; fill-opacity: 0.6"/>
<path d="M 1073.53 1557.3 L 1098.9 1535.65 L 1053.44 1519.58 L 1027.99 1541.12 z" style="fill: #00513a; fill-opacity: 0.6"/>
<path d="M 1073.56 1550.76 L 1028 1534.59 L 1053.46 1513.06 L 1098.94 1529.13 z" style="fill: #007553; fill-opacity: 0.6"/>
<path d="M 1073.53 1557.3 L 1073.56 1550.76 L 1098.94 1529.13 L 1098.9 1535.65 z M 1073.53 1557.3 L 1027.99 1541.12 L 1028 1534.59 L 1073.56 1550.76 z" style="fill: #00865f; fill-opacity: 0.6"/>
</g>
   <g id="Poly3DCollection_57">
<path d="M 733.01 1542.03 L 733.01 1541.9 L 688.41 1525.79 L 688.41 1525.92 z M 661.72 1547.5 L 688.41 1525.92 L 688.41 1525.79 L 661.72 1547.37 z" style="fill: #661e16; fill-opacity: 0.6"/>
<path d="M 706.41 1563.72 L 733.01 1542.03 L 688.41 1525.92 L 661.72 1547.5 z" style="fill: #83261c; fill-opacity: 0.6"/>
<path d="M 706.41 1563.59 L 661.72 1547.37 L 688.41 1525.79 L 733.01 1541.9 z" style="fill: #bc3728; fill-opacity: 0.6"/>
<path d="M 706.41 1563.72 L 706.41 1563.59 L 733.01 1541.9 L 733.01 1542.03 z M 706.41 1563.72 L 661.72 1547.5 L 661.72 1547.37 L 706.41 1563.59 z" style="fill: #d8402e; fill-opacity: 0.6"/>
</g>
   <g id="Poly3DCollection_58">
<path d="M 1337.14 1515.12 L 1361.48 1493.74 L 1315.67 1477.87 L 1291.24 1499.14 z" style="fill: #83261c; fill-opacity: 0.6"/>
<path d="M 1361.48 1493.74 L 1364.27 1356.23 L 1318.1 1340.58 L 1315.67 1477.87 z M 1291.24 1499.14 L 1315.67 1477.87 L 1318.1 1340.58 L 1293.48 1361.56 z" style="fill: #661e16; fill-opacity: 0.6"/>
<path d="M 1337.14 1515.12 L 1339.75 1377.32 L 1364.27 1356.23 L 1361.48 1493.74 z M 1337.14 1515.12 L 1291.24 1499.14 L 1293.48 1361.56 L 1339.75 1377.32 z" style="fill: #d8402e; fill-opacity: 0.6"/>
<path d="M 1339.75 1377.32 L 1293.48 1361.56 L 1318.1 1340.58 L 1364.27 1356.23 z" style="fill: #bc3728; fill-opacity: 0.6"/>
</g>
   <g id="Poly3DCollection_59">
<path d="M 782.83 1560.02 L 782.83 1559.89 L 737.98 1543.69 L 737.98 1543.82 z M 711.39 1565.53 L 737.98 1543.82 L 737.98 1543.69 L 711.38 1565.39 z" style="fill: #003f2d; fill-opacity: 0.6"/>
<path d="M 756.32 1581.83 L 782.83 1560.02 L 737.98 1543.82 L 711.39 1565.53 z" style="fill: #00513a; fill-opacity: 0.6"/>
<path d="M 756.31 1581.7 L 711.38 1565.39 L 737.98 1543.69 L 782.83 1559.89 z" style="fill: #007553; fill-opacity: 0.6"/>
<path d="M 756.32 1581.83 L 756.31 1581.7 L 782.83 1559.89 L 782.83 1560.02 z M 756.32 1581.83 L 711.39 1565.53 L 711.38 1565.39 L 756.31 1581.7 z" style="fill: #00865f; fill-opacity: 0.6"/>
</g>
   <g id="Poly3DCollection_60">
<path d="M 1388.4 1532.96 L 1412.64 1511.47 L 1366.59 1495.51 L 1342.25 1516.9 z" style="fill: #00513a; fill-opacity: 0.6"/>
<path d="M 1412.64 1511.47 L 1415.69 1380.33 L 1369.28 1364.58 L 1366.59 1495.51 z M 1342.25 1516.9 L 1366.59 1495.51 L 1369.28 1364.58 L 1344.77 1385.69 z" style="fill: #003f2d; fill-opacity: 0.6"/>
<path d="M 1388.4 1532.96 L 1391.28 1401.55 L 1415.69 1380.33 L 1412.64 1511.47 z M 1388.4 1532.96 L 1342.25 1516.9 L 1344.77 1385.69 L 1391.28 1401.55 z" style="fill: #00865f; fill-opacity: 0.6"/>
<path d="M 1391.28 1401.55 L 1344.77 1385.69 L 1369.28 1364.58 L 1415.69 1380.33 z" style="fill: #007553; fill-opacity: 0.6"/>
</g>
   <g id="Poly3DCollection_61">
<path d="M 1200.72 1571.67 L 1200.72 1571.54 L 1154.77 1555.28 L 1154.76 1555.41 z M 1129.51 1577.19 L 1154.76 1555.41 L 1154.77 1555.28 L 1129.51 1577.06 z" style="fill: #002b37; fill-opacity: 0.6"/>
<path d="M 1175.55 1593.55 L 1200.72 1571.67 L 1154.76 1555.41 L 1129.51 1577.19 z" style="fill: #003746; fill-opacity: 0.6"/>
<path d="M 1175.55 1593.42 L 1129.51 1577.06 L 1154.77 1555.28 L 1200.72 1571.54 z" style="fill: #005065; fill-opacity: 0.6"/>
<path d="M 1175.55 1593.55 L 1175.55 1593.42 L 1200.72 1571.54 L 1200.72 1571.67 z M 1175.55 1593.55 L 1129.51 1577.19 L 1129.51 1577.06 L 1175.55 1593.42 z" style="fill: #005c75; fill-opacity: 0.6"/>
</g>
   <g id="Poly3DCollection_62">
<path d="M 1252.05 1589.82 L 1252.06 1589.69 L 1205.84 1573.35 L 1205.84 1573.48 z M 1180.68 1595.38 L 1205.84 1573.48 L 1205.84 1573.35 L 1180.68 1595.25 z" style="fill: #661e16; fill-opacity: 0.6"/>
<path d="M 1226.99 1611.83 L 1252.05 1589.82 L 1205.84 1573.48 L 1180.68 1595.38 z" style="fill: #83261c; fill-opacity: 0.6"/>
<path d="M 1226.99 1611.7 L 1180.68 1595.25 L 1205.84 1573.35 L 1252.06 1589.69 z" style="fill: #bc3728; fill-opacity: 0.6"/>
<path d="M 1226.99 1611.83 L 1226.99 1611.7 L 1252.06 1589.69 L 1252.05 1589.82 z M 1226.99 1611.83 L 1180.68 1595.38 L 1180.68 1595.25 L 1226.99 1611.7 z" style="fill: #d8402e; fill-opacity: 0.6"/>
</g>
   <g id="Poly3DCollection_63">
<path d="M 883.29 1596.3 L 883.28 1596.17 L 837.94 1579.79 L 837.94 1579.92 z M 811.53 1601.87 L 837.94 1579.92 L 837.94 1579.79 L 811.53 1601.74 z" style="fill: #002b37; fill-opacity: 0.6"/>
<path d="M 856.96 1618.35 L 883.29 1596.3 L 837.94 1579.92 L 811.53 1601.87 z" style="fill: #003746; fill-opacity: 0.6"/>
<path d="M 856.96 1618.22 L 811.53 1601.74 L 837.94 1579.79 L 883.28 1596.17 z" style="fill: #005065; fill-opacity: 0.6"/>
<path d="M 856.96 1618.35 L 856.96 1618.22 L 883.28 1596.17 L 883.29 1596.3 z M 856.96 1618.35 L 811.53 1601.87 L 811.53 1601.74 L 856.96 1618.22 z" style="fill: #005c75; fill-opacity: 0.6"/>
</g>
   <g id="Poly3DCollection_64">
<path d="M 1303.67 1608.08 L 1303.67 1607.94 L 1257.2 1591.51 L 1257.2 1591.64 z M 1232.14 1613.66 L 1257.2 1591.64 L 1257.2 1591.51 L 1232.15 1613.53 z" style="fill: #003f2d; fill-opacity: 0.6"/>
<path d="M 1278.7 1630.21 L 1303.67 1608.08 L 1257.2 1591.64 L 1232.14 1613.66 z" style="fill: #00513a; fill-opacity: 0.6"/>
<path d="M 1278.71 1630.08 L 1232.15 1613.53 L 1257.2 1591.51 L 1303.67 1607.94 z" style="fill: #007553; fill-opacity: 0.6"/>
<path d="M 1278.7 1630.21 L 1278.71 1630.08 L 1303.67 1607.94 L 1303.67 1608.08 z M 1278.7 1630.21 L 1232.14 1613.66 L 1232.15 1613.53 L 1278.71 1630.08 z" style="fill: #00865f; fill-opacity: 0.6"/>
</g>
   <g id="Poly3DCollection_65">
<path d="M 933.93 1614.59 L 933.93 1614.46 L 888.34 1597.99 L 888.34 1598.12 z M 862.02 1620.19 L 888.34 1598.12 L 888.34 1597.99 L 862.02 1620.06 z" style="fill: #661e16; fill-opacity: 0.6"/>
<path d="M 907.7 1636.76 L 933.93 1614.59 L 888.34 1598.12 L 862.02 1620.19 z" style="fill: #83261c; fill-opacity: 0.6"/>
<path d="M 907.7 1636.63 L 862.02 1620.06 L 888.34 1597.99 L 933.93 1614.46 z" style="fill: #bc3728; fill-opacity: 0.6"/>
<path d="M 907.7 1636.76 L 907.7 1636.63 L 933.93 1614.46 L 933.93 1614.59 z M 907.7 1636.76 L 862.02 1620.19 L 862.02 1620.06 L 907.7 1636.63 z" style="fill: #d8402e; fill-opacity: 0.6"/>
</g>
   <g id="Poly3DCollection_66">
<path d="M 984.86 1632.98 L 984.86 1632.85 L 939.01 1616.29 L 939.01 1616.42 z M 912.79 1638.61 L 939.01 1616.42 L 939.01 1616.29 L 912.79 1638.48 z" style="fill: #003f2d; fill-opacity: 0.6"/>
<path d="M 958.73 1655.28 L 984.86 1632.98 L 939.01 1616.42 L 912.79 1638.61 z" style="fill: #00513a; fill-opacity: 0.6"/>
<path d="M 958.73 1655.15 L 912.79 1638.48 L 939.01 1616.29 L 984.86 1632.85 z" style="fill: #007553; fill-opacity: 0.6"/>
<path d="M 958.73 1655.28 L 958.73 1655.15 L 984.86 1632.85 L 984.86 1632.98 z M 958.73 1655.28 L 912.79 1638.61 L 912.79 1638.48 L 958.73 1655.15 z" style="fill: #00865f; fill-opacity: 0.6"/>
</g>
   <g id="Poly3DCollection_67">
<path d="M 1087.56 1670.07 L 1087.56 1669.94 L 1041.2 1653.2 L 1041.2 1653.33 z M 1015.19 1675.77 L 1041.2 1653.33 L 1041.2 1653.2 L 1015.19 1675.63 z" style="fill: #002b37; fill-opacity: 0.6"/>
<path d="M 1061.64 1692.62 L 1087.56 1670.07 L 1041.2 1653.33 L 1015.19 1675.77 z" style="fill: #003746; fill-opacity: 0.6"/>
<path d="M 1061.64 1692.49 L 1015.19 1675.63 L 1041.2 1653.2 L 1087.56 1669.94 z" style="fill: #005065; fill-opacity: 0.6"/>
<path d="M 1061.64 1692.62 L 1061.64 1692.49 L 1087.56 1669.94 L 1087.56 1670.07 z M 1061.64 1692.62 L 1015.19 1675.77 L 1015.19 1675.63 L 1061.64 1692.49 z" style="fill: #005c75; fill-opacity: 0.6"/>
</g>
   <g id="Poly3DCollection_68">
<path d="M 1139.35 1688.78 L 1139.35 1688.64 L 1092.73 1671.81 L 1092.73 1671.94 z M 1066.81 1694.5 L 1092.73 1671.94 L 1092.73 1671.81 L 1066.81 1694.37 z" style="fill: #661e16; fill-opacity: 0.6"/>
<path d="M 1113.52 1711.45 L 1139.35 1688.78 L 1092.73 1671.94 L 1066.81 1694.5 z" style="fill: #83261c; fill-opacity: 0.6"/>
<path d="M 1113.52 1711.32 L 1066.81 1694.37 L 1092.73 1671.81 L 1139.35 1688.64 z" style="fill: #bc3728; fill-opacity: 0.6"/>
<path d="M 1113.52 1711.45 L 1113.52 1711.32 L 1139.35 1688.64 L 1139.35 1688.78 z M 1113.52 1711.45 L 1066.81 1694.5 L 1066.81 1694.37 L 1113.52 1711.32 z" style="fill: #d8402e; fill-opacity: 0.6"/>
</g>
   <g id="Poly3DCollection_69">
<path d="M 1191.42 1707.58 L 1191.42 1707.45 L 1144.54 1690.52 L 1144.54 1690.65 z M 1118.73 1713.34 L 1144.54 1690.65 L 1144.54 1690.52 L 1118.73 1713.21 z" style="fill: #003f2d; fill-opacity: 0.6"/>
<path d="M 1165.7 1730.39 L 1191.42 1707.58 L 1144.54 1690.65 L 1118.73 1713.34 z" style="fill: #00513a; fill-opacity: 0.6"/>
<path d="M 1165.7 1730.25 L 1118.73 1713.21 L 1144.54 1690.52 L 1191.42 1707.45 z" style="fill: #007553; fill-opacity: 0.6"/>
<path d="M 1165.7 1730.39 L 1165.7 1730.25 L 1191.42 1707.45 L 1191.42 1707.58 z M 1165.7 1730.39 L 1118.73 1713.34 L 1118.73 1713.21 L 1165.7 1730.25 z" style="fill: #00865f; fill-opacity: 0.6"/>
</g>
  </g>
  <g id="text_4">
   <text style="font-size: 70.8px; font-family: 'DejaVu Sans', 'Liberation Sans', sans-serif; text-anchor: start" x="174.6" y="1583.3">100</text>
  </g>
  <g id="text_5">
   <text style="font-size: 70.8px; font-family: 'DejaVu Sans', 'Liberation Sans', sans-serif; text-anchor: start" x="390.9" y="1655.5">80</text>
  </g>
  <g id="text_6">
   <text style="font-size: 70.8px; font-family: 'DejaVu Sans', 'Liberation Sans', sans-serif; text-anchor: start" x="589.1" y="1729">60</text>
  </g>
  <g id="text_7">
   <text style="font-size: 70.8px; font-family: 'DejaVu Sans', 'Liberation Sans', sans-serif; text-anchor: start" x="789.3" y="1803.2">40</text>
  </g>
  <g id="text_8">
   <text style="font-size: 70.8px; font-family: 'DejaVu Sans', 'Liberation Sans', sans-serif; text-anchor: start" x="995.6" y="1878.5">20</text>
  </g>
  <g id="text_9">
   <text style="font-size: 70.8px; font-family: 'DejaVu Sans', 'Liberation Sans', sans-serif; text-anchor: start" x="1197" y="1878">300~900</text>
  </g>
  <g id="text_10">
   <text style="font-size: 70.8px; font-family: 'DejaVu Sans', 'Liberation Sans', sans-serif; text-anchor: start" x="1305.8" y="1776.5">1200</text>
  </g>
  <g id="text_11">
   <text style="font-size: 70.8px; font-family: 'DejaVu Sans', 'Liberation Sans', sans-serif; text-anchor: start" x="1414.4" y="1677.8">1500</text>
  </g>
  <g id="text_12">
   <text style="font-size: 70.8px; font-family: 'DejaVu Sans', 'Liberation Sans', sans-serif; text-anchor: start" x="1519.6" y="1581.8">1800</text>
  </g>
  <g id="text_13">
   <text style="font-size: 70.8px; font-family: 'DejaVu Sans', 'Liberation Sans', sans-serif; text-anchor: start" x="1621.5" y="1486.8">2100</text>
  </g>
  <g id="text_14">
   <text style="font-size: 70.8px; font-family: 'DejaVu Sans', 'Liberation Sans', sans-serif; text-anchor: start" x="1719.9" y="1397.5">2400</text>
  </g>
  <g id="text_15">
   <text style="font-size: 70.8px; font-family: 'DejaVu Sans', 'Liberation Sans', sans-serif; text-anchor: start" x="1873.4" y="1277">0</text>
  </g>
  <g id="text_16">
   <text style="font-size: 70.8px; font-family: 'DejaVu Sans', 'Liberation Sans', sans-serif; text-anchor: start" x="1857.1" y="1148.3">20</text>
  </g>
  <g id="text_17">
   <text style="font-size: 70.8px; font-family: 'DejaVu Sans', 'Liberation Sans', sans-serif; text-anchor: start" x="1863.7" y="1018.9">40</text>
  </g>
  <g id="text_18">
   <text style="font-size: 70.8px; font-family: 'DejaVu Sans', 'Liberation Sans', sans-serif; text-anchor: start" x="1871.4" y="888">60</text>
  </g>
  <g id="text_19">
   <text style="font-size: 70.8px; font-family: 'DejaVu Sans', 'Liberation Sans', sans-serif; text-anchor: start" x="1877.5" y="755.3">80</text>
  </g>
  <g id="text_20">
   <text style="font-size: 70.8px; font-family: 'DejaVu Sans', 'Liberation Sans', sans-serif; text-anchor: start" x="1861.6" y="620.3">100</text>
  </g>
  <g id="text_21">
   <text style="font-size: 88.4px; font-family: 'DejaVu Sans', 'Liberation Sans', sans-serif; text-anchor: start" x="2005.2" y="854.2">TET</text>
  </g>
  <g id="text_22">
   <text style="font-size: 88.4px; font-family: 'DejaVu Sans', 'Liberation Sans', sans-serif; text-anchor: start" x="377.6" y="1777.3" transform="rotate(-339.86 377.6 1777.3)">MPR (%)</text>
  </g>
  <g id="text_23">
   <text style="font-size: 88.4px; font-family: 'DejaVu Sans', 'Liberation Sans', sans-serif; text-anchor: start" x="1497.3" y="1953.7" transform="rotate(-42.03 1497.3 1953.7)">Q (veh/h/lane)</text>
  </g>
 </g>
 <defs>
  </defs>
</svg>

</body>
</html>
